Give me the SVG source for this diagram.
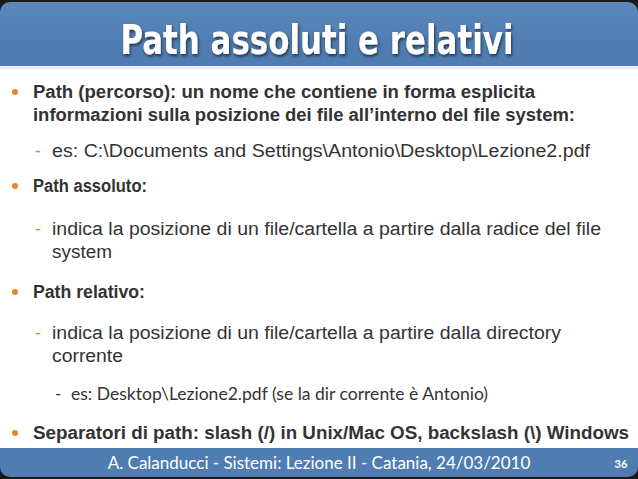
<svg xmlns="http://www.w3.org/2000/svg" width="638" height="479" viewBox="0 0 638 479">
<style>
.t{font-family:"Liberation Sans",Arial,sans-serif;font-size:18px;fill:#333}
.b{font-weight:bold}
.o{fill:#e8862a}
.s{font-family:"Lato","Open Sans",sans-serif;font-size:16.5px;fill:#333}
</style>
<defs>
<linearGradient id="g" x1="0" y1="0" x2="0" y2="1"><stop offset="0" stop-color="#5a88bd"/><stop offset="1" stop-color="#4a78ad"/></linearGradient>
<filter id="sh"><feDropShadow dx="1" dy="2" stdDeviation="1.5" flood-color="#000" flood-opacity="0.6"/></filter>
</defs>
<rect width="638" height="479" fill="#fff"/>
<rect x="0" y="0" width="638" height="68" fill="#1a1a1a"/>
<rect x="0" y="2" width="638" height="66" rx="10" fill="url(#g)"/>
<rect x="0" y="40" width="638" height="26" fill="#4f7db2"/>
<rect x="0" y="66" width="638" height="3" fill="#e8eef6"/>
<rect x="0" y="448" width="638" height="31" fill="#1a1a1a"/>
<rect x="0" y="448" width="638" height="29" rx="10" fill="#4f7db2"/>
<rect x="0" y="448" width="638" height="12" fill="#4f7db2"/>
<text x="317" y="54" text-anchor="middle" font-family="DejaVu Sans Condensed,'DejaVu Sans',sans-serif" font-weight="bold" font-size="40" fill="#fff" textLength="393" lengthAdjust="spacingAndGlyphs" filter="url(#sh)">Path assoluti e relativi</text>
<g id="body">
<circle class="o" cx="15" cy="92" r="3"/>
<text class="t b" x="33" y="98" textLength="502" lengthAdjust="spacingAndGlyphs">Path (percorso): un nome che contiene in forma esplicita</text>
<text class="t b" x="33" y="121" textLength="542" lengthAdjust="spacingAndGlyphs">informazioni sulla posizione dei file all’interno del file system:</text>
<text class="t o" x="35" y="157">-</text>
<text class="t" x="52" y="157" textLength="538" lengthAdjust="spacingAndGlyphs">es: C:\Documents and Settings\Antonio\Desktop\Lezione2.pdf</text>
<circle class="o" cx="15" cy="186" r="3"/>
<text class="t b" x="33" y="192" textLength="114" lengthAdjust="spacingAndGlyphs">Path assoluto:</text>
<text class="t o" x="35" y="235">-</text>
<text class="t" x="52" y="235" textLength="549" lengthAdjust="spacingAndGlyphs">indica la posizione di un file/cartella a partire dalla radice del file</text>
<text class="t" x="52" y="258" textLength="60" lengthAdjust="spacingAndGlyphs">system</text>
<circle class="o" cx="15" cy="292" r="3"/>
<text class="t b" x="33" y="298" textLength="112" lengthAdjust="spacingAndGlyphs">Path relativo:</text>
<text class="t o" x="35" y="339">-</text>
<text class="t" x="52" y="339" textLength="509" lengthAdjust="spacingAndGlyphs">indica la posizione di un file/cartella a partire dalla directory</text>
<text class="t" x="52" y="362" textLength="71" lengthAdjust="spacingAndGlyphs">corrente</text>
<text class="s o" x="55" y="400">-</text>
<text class="s" x="71" y="400" textLength="417" lengthAdjust="spacingAndGlyphs">es: Desktop\Lezione2.pdf (se la dir corrente è Antonio)</text>
<circle class="o" cx="15" cy="433" r="3"/>
<text class="t b" x="33" y="439" textLength="596" lengthAdjust="spacingAndGlyphs">Separatori di path: slash (/) in Unix/Mac OS, backslash (\) Windows</text>
</g>
<text x="319" y="469" text-anchor="middle" font-family="Lato,'Open Sans',sans-serif" font-size="17" fill="#fff">A. Calanducci - Sistemi: Lezione II - Catania, 24/03/2010</text>
<text x="621" y="468" text-anchor="middle" font-family="Lato,sans-serif" font-weight="bold" font-size="11" fill="#fff">36</text>
</svg>
